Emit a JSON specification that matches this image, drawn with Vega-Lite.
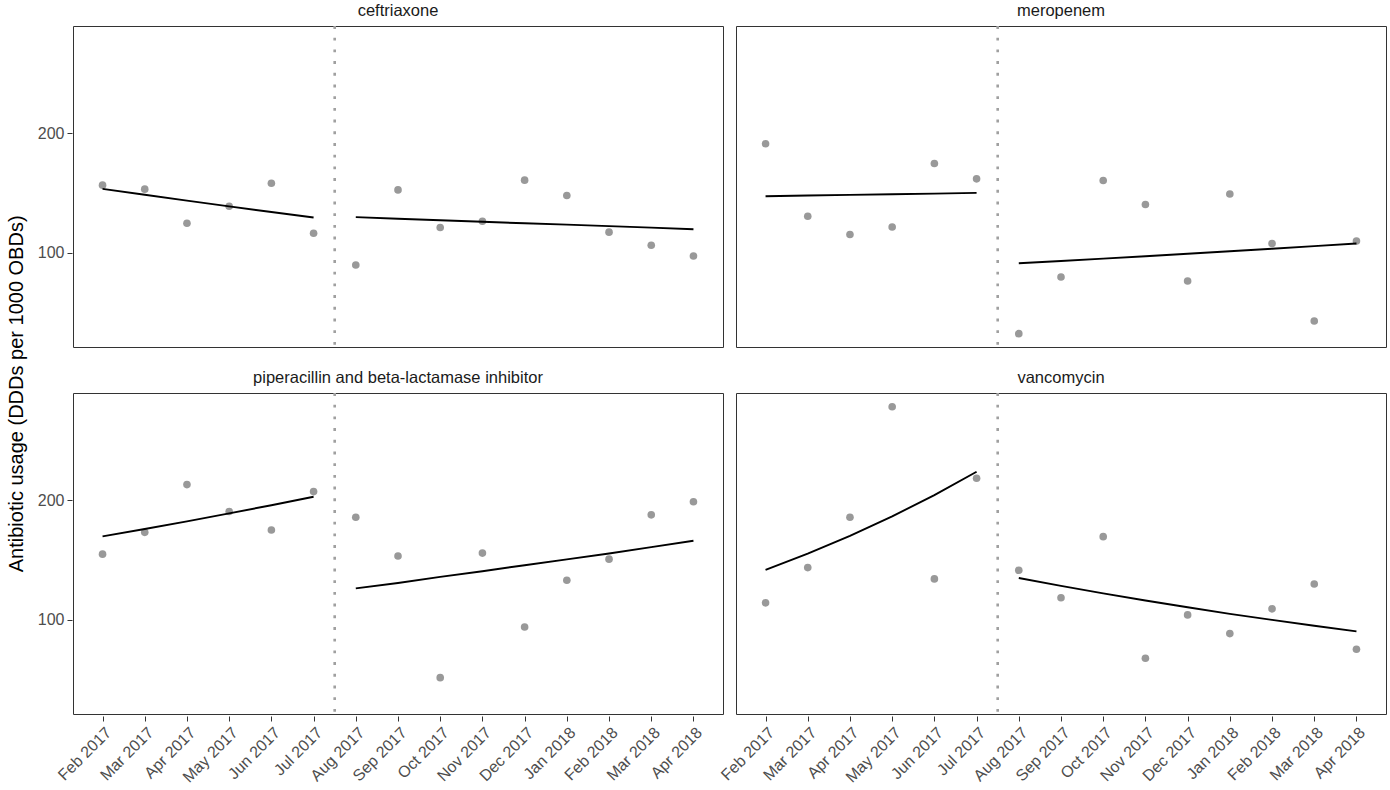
{
  "$schema": "https://vega.github.io/schema/vega-lite/v6.json",
  "background": "white",
  "padding": {"left": 7, "top": 2, "right": 0, "bottom": 0},
  "title": {"text": "Antibiotic usage (DDDs per 1000 OBDs)", "orient": "left", "anchor": "middle", "fontSize": 20, "font": "Liberation Sans", "fontWeight": "normal", "color": "#000000", "offset": 10},
  "datasets": {
    "usage": [
      {"drug": "ceftriaxone", "t": 0, "usage": 156.6, "fit": 153.5, "period": "pre"},
      {"drug": "ceftriaxone", "t": 1, "usage": 153.2, "fit": 148.5, "period": "pre"},
      {"drug": "ceftriaxone", "t": 2, "usage": 124.6, "fit": 143.6, "period": "pre"},
      {"drug": "ceftriaxone", "t": 3, "usage": 138.9, "fit": 138.8, "period": "pre"},
      {"drug": "ceftriaxone", "t": 4, "usage": 158.2, "fit": 134.0, "period": "pre"},
      {"drug": "ceftriaxone", "t": 5, "usage": 116.2, "fit": 129.4, "period": "pre"},
      {"drug": "ceftriaxone", "t": 6, "usage": 89.6, "fit": 129.7, "period": "post"},
      {"drug": "ceftriaxone", "t": 7, "usage": 152.6, "fit": 128.4, "period": "post"},
      {"drug": "ceftriaxone", "t": 8, "usage": 121.0, "fit": 127.1, "period": "post"},
      {"drug": "ceftriaxone", "t": 9, "usage": 126.3, "fit": 125.8, "period": "post"},
      {"drug": "ceftriaxone", "t": 10, "usage": 160.8, "fit": 124.6, "period": "post"},
      {"drug": "ceftriaxone", "t": 11, "usage": 147.9, "fit": 123.4, "period": "post"},
      {"drug": "ceftriaxone", "t": 12, "usage": 117.1, "fit": 122.2, "period": "post"},
      {"drug": "ceftriaxone", "t": 13, "usage": 106.1, "fit": 120.9, "period": "post"},
      {"drug": "ceftriaxone", "t": 14, "usage": 97.1, "fit": 119.6, "period": "post"},
      {"drug": "meropenem", "t": 0, "usage": 191.3, "fit": 147.3, "period": "pre"},
      {"drug": "meropenem", "t": 1, "usage": 130.5, "fit": 147.9, "period": "pre"},
      {"drug": "meropenem", "t": 2, "usage": 115.1, "fit": 148.4, "period": "pre"},
      {"drug": "meropenem", "t": 3, "usage": 121.5, "fit": 149.0, "period": "pre"},
      {"drug": "meropenem", "t": 4, "usage": 174.8, "fit": 149.5, "period": "pre"},
      {"drug": "meropenem", "t": 5, "usage": 161.9, "fit": 150.1, "period": "pre"},
      {"drug": "meropenem", "t": 6, "usage": 31.9, "fit": 91.0, "period": "post"},
      {"drug": "meropenem", "t": 7, "usage": 79.5, "fit": 92.9, "period": "post"},
      {"drug": "meropenem", "t": 8, "usage": 160.5, "fit": 94.9, "period": "post"},
      {"drug": "meropenem", "t": 9, "usage": 140.3, "fit": 96.9, "period": "post"},
      {"drug": "meropenem", "t": 10, "usage": 76.1, "fit": 99.0, "period": "post"},
      {"drug": "meropenem", "t": 11, "usage": 149.2, "fit": 101.1, "period": "post"},
      {"drug": "meropenem", "t": 12, "usage": 107.6, "fit": 103.2, "period": "post"},
      {"drug": "meropenem", "t": 13, "usage": 42.5, "fit": 105.4, "period": "post"},
      {"drug": "meropenem", "t": 14, "usage": 109.7, "fit": 107.6, "period": "post"},
      {"drug": "piperacillin and beta-lactamase inhibitor", "t": 0, "usage": 154.9, "fit": 169.8, "period": "pre"},
      {"drug": "piperacillin and beta-lactamase inhibitor", "t": 1, "usage": 173.2, "fit": 176.0, "period": "pre"},
      {"drug": "piperacillin and beta-lactamase inhibitor", "t": 2, "usage": 213.3, "fit": 182.4, "period": "pre"},
      {"drug": "piperacillin and beta-lactamase inhibitor", "t": 3, "usage": 190.7, "fit": 189.1, "period": "pre"},
      {"drug": "piperacillin and beta-lactamase inhibitor", "t": 4, "usage": 175.2, "fit": 196.0, "period": "pre"},
      {"drug": "piperacillin and beta-lactamase inhibitor", "t": 5, "usage": 207.4, "fit": 203.1, "period": "pre"},
      {"drug": "piperacillin and beta-lactamase inhibitor", "t": 6, "usage": 185.9, "fit": 126.2, "period": "post"},
      {"drug": "piperacillin and beta-lactamase inhibitor", "t": 7, "usage": 153.3, "fit": 130.7, "period": "post"},
      {"drug": "piperacillin and beta-lactamase inhibitor", "t": 8, "usage": 51.2, "fit": 135.8, "period": "post"},
      {"drug": "piperacillin and beta-lactamase inhibitor", "t": 9, "usage": 155.8, "fit": 140.6, "period": "post"},
      {"drug": "piperacillin and beta-lactamase inhibitor", "t": 10, "usage": 93.7, "fit": 145.6, "period": "post"},
      {"drug": "piperacillin and beta-lactamase inhibitor", "t": 11, "usage": 133.0, "fit": 150.5, "period": "post"},
      {"drug": "piperacillin and beta-lactamase inhibitor", "t": 12, "usage": 150.7, "fit": 155.5, "period": "post"},
      {"drug": "piperacillin and beta-lactamase inhibitor", "t": 13, "usage": 187.9, "fit": 160.8, "period": "post"},
      {"drug": "piperacillin and beta-lactamase inhibitor", "t": 14, "usage": 198.9, "fit": 166.2, "period": "post"},
      {"drug": "vancomycin", "t": 0, "usage": 114.0, "fit": 141.7, "period": "pre"},
      {"drug": "vancomycin", "t": 1, "usage": 143.6, "fit": 155.3, "period": "pre"},
      {"drug": "vancomycin", "t": 2, "usage": 185.9, "fit": 170.2, "period": "pre"},
      {"drug": "vancomycin", "t": 3, "usage": 278.6, "fit": 186.6, "period": "pre"},
      {"drug": "vancomycin", "t": 4, "usage": 134.1, "fit": 204.5, "period": "pre"},
      {"drug": "vancomycin", "t": 5, "usage": 218.6, "fit": 224.1, "period": "pre"},
      {"drug": "vancomycin", "t": 6, "usage": 141.4, "fit": 134.9, "period": "post"},
      {"drug": "vancomycin", "t": 7, "usage": 118.3, "fit": 128.3, "period": "post"},
      {"drug": "vancomycin", "t": 8, "usage": 169.6, "fit": 122.0, "period": "post"},
      {"drug": "vancomycin", "t": 9, "usage": 67.5, "fit": 116.0, "period": "post"},
      {"drug": "vancomycin", "t": 10, "usage": 103.9, "fit": 110.3, "period": "post"},
      {"drug": "vancomycin", "t": 11, "usage": 88.2, "fit": 104.8, "period": "post"},
      {"drug": "vancomycin", "t": 12, "usage": 109.0, "fit": 99.7, "period": "post"},
      {"drug": "vancomycin", "t": 13, "usage": 129.8, "fit": 94.8, "period": "post"},
      {"drug": "vancomycin", "t": 14, "usage": 75.1, "fit": 90.1, "period": "post"}
    ]
  },
  "data": {"name": "usage"},
  "facet": {
    "field": "drug",
    "type": "nominal",
    "header": {"title": null, "labelFontSize": 16.5, "labelColor": "#1a1a1a", "labelFont": "Liberation Sans", "labelPadding": 5}
  },
  "columns": 2,
  "spacing": {"row": 20, "column": 11},
  "spec": {
    "width": 650,
    "height": 321,
    "layer": [
      {
        "transform": [{"filter": "datum.t == 0"}],
        "mark": {"type": "rule", "strokeDash": [2.9, 8.8], "strokeWidth": 2.6, "color": "#a0a0a0"},
        "encoding": {"x": {"datum": 5.5, "type": "quantitative"}}
      },
      {
        "mark": {"type": "circle", "size": 58, "color": "#999999", "opacity": 1},
        "encoding": {
          "x": {
            "field": "t", "type": "quantitative",
            "scale": {"domain": [-0.7, 14.7], "nice": false, "zero": false},
            "axis": {
              "values": [0, 1, 2, 3, 4, 5, 6, 7, 8, 9, 10, 11, 12, 13, 14],
              "labelExpr": "['Feb 2017','Mar 2017','Apr 2017','May 2017','Jun 2017','Jul 2017','Aug 2017','Sep 2017','Oct 2017','Nov 2017','Dec 2017','Jan 2018','Feb 2018','Mar 2018','Apr 2018'][datum.value]",
              "title": null, "labelAngle": -45, "labelAlign": "right", "labelBaseline": "top", "grid": false
            }
          },
          "y": {
            "field": "usage", "type": "quantitative",
            "scale": {"domain": [20.7, 290.2], "nice": false, "zero": false},
            "axis": {"values": [100, 200], "title": null, "grid": false}
          }
        }
      },
      {
        "mark": {"type": "line", "color": "#000000", "strokeWidth": 1.9},
        "encoding": {
          "x": {"field": "t", "type": "quantitative"},
          "y": {"field": "fit", "type": "quantitative"},
          "detail": {"field": "period"}
        }
      }
    ]
  },
  "config": {
    "font": "Liberation Sans",
    "view": {"stroke": "#333333", "strokeWidth": 1},
    "axis": {
      "domain": false,
      "labelFont": "Liberation Sans",
      "labelFontSize": 16,
      "labelColor": "#4d4d4d",
      "tickColor": "#333333",
      "tickSize": 5,
      "tickWidth": 1,
      "labelPadding": 3,
      "labelOverlap": false,
      "labelFlush": false
    }
  }
}
